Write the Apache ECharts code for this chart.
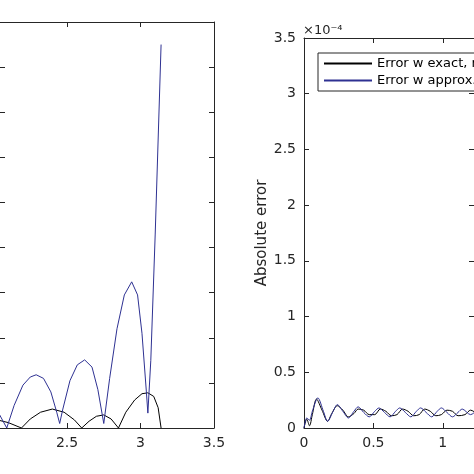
<!DOCTYPE html>
<html><head><meta charset="utf-8">
<script src="https://cdn.jsdelivr.net/npm/echarts@6/dist/echarts.min.js"></script>
<style>html,body{margin:0;padding:0;background:#fff}#c{width:474px;height:474px}</style>
</head><body><div id="c"></div>
<script>
const xTicksLeft = [2.5, 3, 3.5];
const xTicksRight = [0, 0.5, 1];
const leftBlack = [[2.0,0.2],[2.1,0.12],[2.19,0],[2.25,0.2],[2.32,0.35],[2.40,0.42],[2.48,0.35],[2.55,0.18],[2.60,0],[2.65,0.15],[2.70,0.26],[2.75,0.29],[2.80,0.2],[2.85,0],[2.90,0.35],[2.96,0.62],[3.01,0.76],[3.05,0.78],[3.09,0.7],[3.12,0.45],[3.14,0]];
const leftBlue = [[2.0,0.5],[2.04,0.3],[2.09,0],[2.14,0.5],[2.2,0.95],[2.25,1.13],[2.29,1.18],[2.34,1.1],[2.39,0.8],[2.43,0.35],[2.45,0.1],[2.47,0.4],[2.52,1.05],[2.57,1.4],[2.62,1.51],[2.67,1.35],[2.71,0.85],[2.75,0.1],[2.79,1.1],[2.84,2.2],[2.89,2.95],[2.94,3.24],[2.98,2.95],[3.01,2.1],[3.04,0.8],[3.05,0.33],[3.07,1.5],[3.1,4.3],[3.14,8.5]];
const rightBlue = [[0,0],[0.02,0.09],[0.04,0.07],[0.06,0.15],[0.1,0.27],[0.14,0.15],[0.17,0.06],[0.21,0.15],[0.24,0.21],[0.28,0.15],[0.32,0.09],[0.36,0.15],[0.39,0.19],[0.43,0.14],[0.47,0.10],[0.51,0.15],[0.54,0.18],[0.58,0.14],[0.62,0.10],[0.66,0.15],[0.69,0.18],[0.73,0.14],[0.77,0.10],[0.81,0.15],[0.84,0.18],[0.88,0.14],[0.92,0.10],[0.96,0.15],[0.99,0.18],[1.03,0.14],[1.07,0.10],[1.11,0.14],[1.14,0.17],[1.2,0.12],[1.25,0.16],[1.3,0.18]];
const rightBlack = [[0,0],[0.02,0.08],[0.04,0.02],[0.06,0.12],[0.09,0.26],[0.13,0.16],[0.17,0.06],[0.2,0.13],[0.24,0.20],[0.28,0.16],[0.32,0.10],[0.36,0.13],[0.39,0.17],[0.43,0.16],[0.47,0.12],[0.51,0.12],[0.55,0.17],[0.59,0.15],[0.63,0.11],[0.67,0.12],[0.71,0.17],[0.75,0.15],[0.79,0.11],[0.83,0.12],[0.87,0.17],[0.91,0.15],[0.95,0.11],[0.99,0.12],[1.03,0.16],[1.07,0.15],[1.11,0.11],[1.16,0.12],[1.2,0.16],[1.25,0.13],[1.3,0.12]];
const legendNames = ['Error w exact, nodes', 'Error w approx. nodes'];
const blue = '#2e3192';
const ff = 'DejaVu Sans';
const ax = {lineStyle:{color:'#262626',width:1}};
function xAxisCfg(grid, pos, show, min, max, ticks){
  return {type:'value',gridIndex:grid,position:pos,min:min,max:max,
    axisLine:{show:true,onZero:false,...ax},axisTick:{show:true,inside:true,length:5,customValues:ticks,...ax},
    axisLabel:{show:show,customValues:ticks,color:'#262626',fontFamily:ff,fontSize:14,margin:8,formatter:v=>String(v)},splitLine:{show:false}};
}
function yAxisCfg(grid,pos,max,interval,show,line){
  return {type:'value',gridIndex:grid,position:pos,min:0,max:max,interval:interval,
    axisLine:{show:line,onZero:false,...ax},axisTick:{show:true,inside:true,length:5,...ax},
    axisLabel:{show:show,color:'#262626',fontFamily:ff,fontSize:14,margin:8,formatter:v=>String(v)},splitLine:{show:false}};
}
const chart = echarts.init(document.getElementById('c'));
chart.setOption({
  animation:false,
  grid:[{left:0,top:22,width:214,height:406},{left:304,top:38,width:180,height:390}],
  xAxis:[xAxisCfg(0,'bottom',true,2.044,3.5,xTicksLeft),xAxisCfg(0,'top',false,2.044,3.5,xTicksLeft),
         xAxisCfg(1,'bottom',true,0,1.225,xTicksRight),xAxisCfg(1,'top',false,0,1.225,xTicksRight)],
  yAxis:[yAxisCfg(0,'left',9,1,false,false),yAxisCfg(0,'right',9,1,false,true),
    {...yAxisCfg(1,'left',3.5,0.5,true,true),name:'Absolute error',nameLocation:'middle',nameGap:34,nameTextStyle:{color:'#262626',fontFamily:ff,fontSize:15}},
    yAxisCfg(1,'right',3.5,0.5,false,false)],
  legend:{show:true,left:318,top:53,orient:'vertical',itemWidth:48,itemHeight:2,itemGap:4,padding:[4,6],
    borderColor:'#262626',borderWidth:1,backgroundColor:'#fff',icon:'rect',
    textStyle:{fontFamily:ff,fontSize:13,color:'#000'},data:legendNames},
  graphic:[{type:'text',left:303,top:24,style:{text:'×10⁻⁴',font:'13px DejaVu Sans',fill:'#262626'}}],
  series:[
    {type:'line',xAxisIndex:0,yAxisIndex:0,data:leftBlack,showSymbol:false,lineStyle:{color:'#000',width:1},itemStyle:{color:'#000'}},
    {type:'line',xAxisIndex:0,yAxisIndex:0,data:leftBlue,showSymbol:false,lineStyle:{color:blue,width:1},itemStyle:{color:blue}},
    {name:legendNames[0],type:'line',xAxisIndex:2,yAxisIndex:2,data:rightBlack,showSymbol:false,smooth:0.3,lineStyle:{color:'#000',width:1},itemStyle:{color:'#000'}},
    {name:legendNames[1],type:'line',xAxisIndex:2,yAxisIndex:2,data:rightBlue,showSymbol:false,smooth:0.3,lineStyle:{color:blue,width:1},itemStyle:{color:blue}}
  ]
});
</script></body></html>
